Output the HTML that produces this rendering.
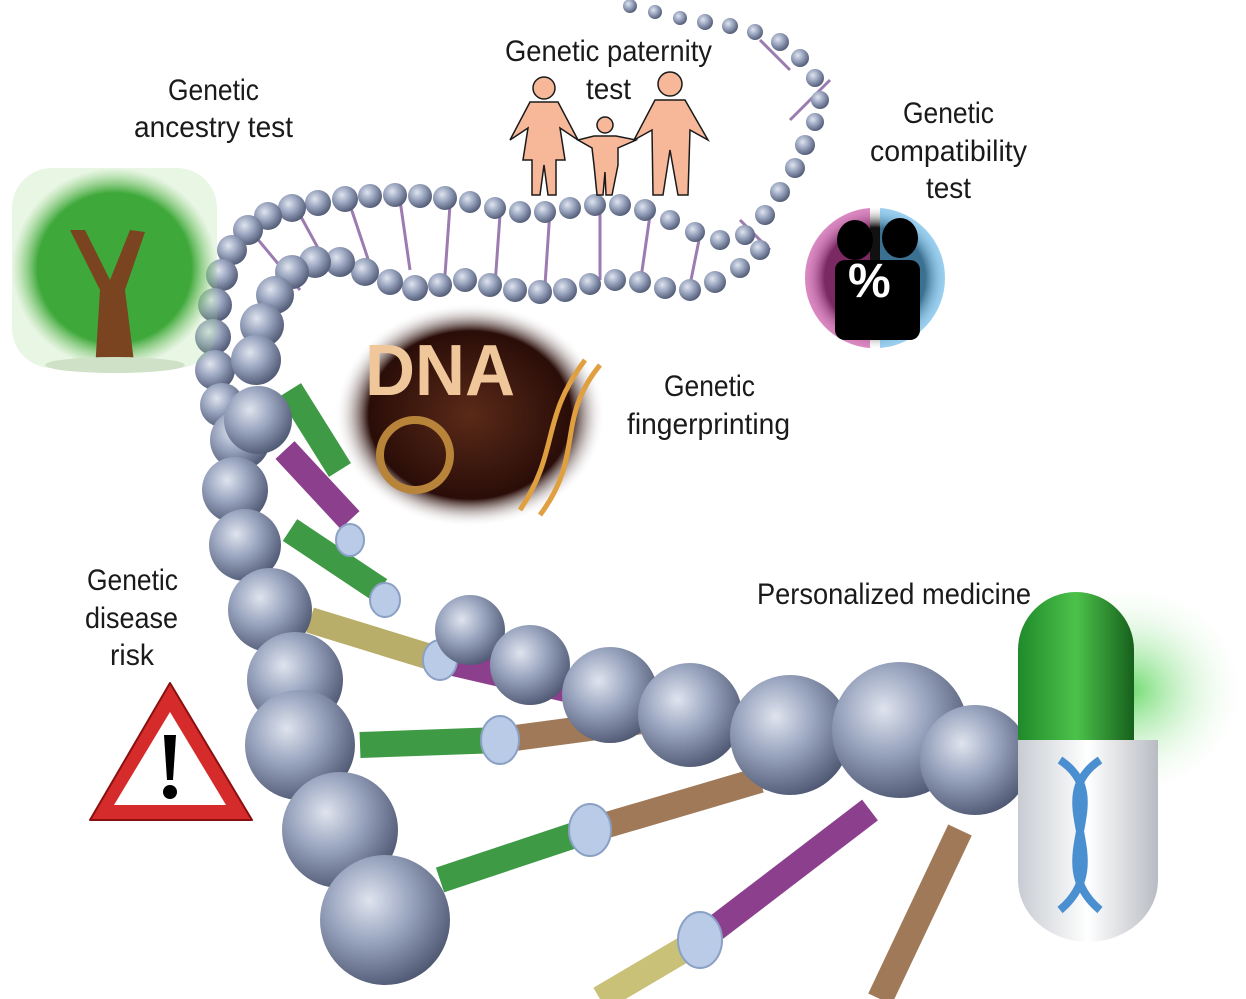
<!DOCTYPE html>
<html><head><meta charset="utf-8"><style>
html,body{margin:0;padding:0;background:#fff;}
svg{display:block}
text{font-family:"Liberation Sans Narrow","Liberation Sans",sans-serif;font-size:30px;fill:#1a1a1a;}
</style></head><body>
<svg width="1246" height="999" viewBox="0 0 1246 999" xmlns="http://www.w3.org/2000/svg">
<defs>
<radialGradient id="sph" cx="0.38" cy="0.35" r="0.7">
<stop offset="0" stop-color="#dfe4ee"/><stop offset="0.45" stop-color="#9aa5bf"/><stop offset="1" stop-color="#4d5670"/>
</radialGradient>
<radialGradient id="dnaC" cx="0.5" cy="0.5" r="0.5">
<stop offset="0" stop-color="#5a2a18"/><stop offset="0.75" stop-color="#2a0d08"/><stop offset="1" stop-color="#fff" stop-opacity="0"/>
</radialGradient>
<radialGradient id="cmp" cx="0.5" cy="0.5" r="0.5">
<stop offset="0.7" stop-color="#111"/><stop offset="1" stop-color="#fff" stop-opacity="0"/>
</radialGradient>
<linearGradient id="cap1" x1="0" y1="0" x2="1" y2="0"><stop offset="0" stop-color="#1f8a2a"/><stop offset="0.5" stop-color="#4cc24a"/><stop offset="1" stop-color="#16601c"/></linearGradient>
<linearGradient id="cap2" x1="0" y1="0" x2="1" y2="0"><stop offset="0" stop-color="#c8ccd2"/><stop offset="0.5" stop-color="#ffffff"/><stop offset="1" stop-color="#b8bcc2"/></linearGradient>
<radialGradient id="glow" cx="0.5" cy="0.5" r="0.5"><stop offset="0" stop-color="#4bd24b" stop-opacity="0.8"/><stop offset="1" stop-color="#fff" stop-opacity="0"/></radialGradient>
<radialGradient id="tree" cx="0.5" cy="0.5" r="0.5"><stop offset="0.75" stop-color="#3ea83a"/><stop offset="1" stop-color="#8fd07a" stop-opacity="0.2"/></radialGradient>
</defs>

<g stroke-width="26" stroke-linecap="butt">
<line x1="290" y1="390" x2="340" y2="470" stroke="#3f9a45"/>
<line x1="285" y1="450" x2="350" y2="520" stroke="#8c3f8c"/>
<line x1="290" y1="530" x2="380" y2="590" stroke="#3f9a45"/>
<line x1="310" y1="620" x2="440" y2="660" stroke="#b9ad6a"/>
<line x1="440" y1="660" x2="570" y2="690" stroke="#8c3f8c"/>
<line x1="360" y1="745" x2="500" y2="740" stroke="#3f9a45"/>
<line x1="500" y1="740" x2="650" y2="720" stroke="#a07a58"/>
<line x1="440" y1="880" x2="590" y2="830" stroke="#3f9a45"/>
<line x1="590" y1="830" x2="760" y2="780" stroke="#a07a58"/>
<line x1="600" y1="999" x2="700" y2="940" stroke="#c9c178"/>
<line x1="700" y1="940" x2="870" y2="810" stroke="#8c3f8c"/>
<line x1="880" y1="999" x2="960" y2="830" stroke="#a07a58"/>
</g>
<g fill="#b9cbe6" stroke="#8aa0c4" stroke-width="2">
<ellipse cx="350" cy="540" rx="14" ry="16"/><ellipse cx="385" cy="600" rx="15" ry="17"/>
<ellipse cx="440" cy="660" rx="17" ry="20"/><ellipse cx="500" cy="740" rx="19" ry="24"/>
<ellipse cx="590" cy="830" rx="21" ry="26"/><ellipse cx="700" cy="940" rx="22" ry="28"/>
</g>

<g stroke-width="3">
<path d="M250 230 L300 290 M300 215 L330 270 M350 205 L370 265 M400 200 L410 270 M450 205 L445 275 M500 215 L495 285 M550 210 L545 285 M600 205 L600 280 M650 215 L640 285 M700 235 L690 285 M740 220 L770 250 M790 120 L830 80 M760 40 L790 70" stroke="#9b7bb0"/>
</g>

<g fill="url(#sph)">
<circle cx="630" cy="6" r="7"/><circle cx="655" cy="12" r="7"/><circle cx="680" cy="18" r="7"/><circle cx="705" cy="22" r="8"/><circle cx="730" cy="26" r="8"/><circle cx="755" cy="32" r="8"/><circle cx="780" cy="42" r="9"/><circle cx="800" cy="58" r="9"/><circle cx="815" cy="78" r="9"/><circle cx="820" cy="100" r="9"/><circle cx="815" cy="122" r="9"/><circle cx="805" cy="145" r="10"/><circle cx="795" cy="168" r="10"/><circle cx="780" cy="192" r="10"/><circle cx="765" cy="215" r="10"/><circle cx="745" cy="235" r="10"/><circle cx="720" cy="240" r="10"/><circle cx="695" cy="232" r="10"/><circle cx="670" cy="220" r="10"/><circle cx="645" cy="210" r="11"/><circle cx="620" cy="205" r="11"/><circle cx="595" cy="205" r="11"/><circle cx="570" cy="208" r="11"/><circle cx="545" cy="212" r="11"/><circle cx="520" cy="212" r="11"/><circle cx="495" cy="208" r="11"/><circle cx="470" cy="202" r="11"/><circle cx="445" cy="198" r="12"/><circle cx="420" cy="196" r="12"/><circle cx="395" cy="195" r="12"/><circle cx="370" cy="196" r="12"/><circle cx="345" cy="199" r="13"/><circle cx="318" cy="203" r="13"/><circle cx="292" cy="208" r="14"/><circle cx="268" cy="216" r="14"/><circle cx="248" cy="230" r="15"/><circle cx="232" cy="250" r="15"/>
<circle cx="760" cy="250" r="10"/><circle cx="740" cy="268" r="10"/><circle cx="715" cy="282" r="11"/><circle cx="690" cy="290" r="11"/><circle cx="665" cy="288" r="11"/><circle cx="640" cy="282" r="11"/><circle cx="615" cy="280" r="11"/><circle cx="590" cy="284" r="11"/><circle cx="565" cy="290" r="12"/><circle cx="540" cy="292" r="12"/><circle cx="515" cy="290" r="12"/><circle cx="490" cy="285" r="12"/><circle cx="465" cy="280" r="12"/><circle cx="440" cy="285" r="12"/><circle cx="415" cy="288" r="13"/><circle cx="390" cy="282" r="13"/><circle cx="365" cy="272" r="14"/><circle cx="340" cy="262" r="15"/><circle cx="315" cy="262" r="16"/><circle cx="292" cy="272" r="17"/>
<circle cx="222" cy="275" r="16"/><circle cx="215" cy="305" r="17"/><circle cx="213" cy="337" r="18"/><circle cx="215" cy="370" r="20"/><circle cx="222" cy="405" r="22"/>
<circle cx="275" cy="295" r="19"/><circle cx="262" cy="325" r="22"/><circle cx="256" cy="360" r="25"/>
<circle cx="240" cy="440" r="30"/><circle cx="235" cy="490" r="33"/><circle cx="245" cy="545" r="36"/><circle cx="270" cy="610" r="42"/><circle cx="295" cy="680" r="48"/><circle cx="300" cy="745" r="55"/><circle cx="340" cy="830" r="58"/><circle cx="385" cy="920" r="65"/>
<circle cx="258" cy="420" r="34"/>
<circle cx="470" cy="630" r="35"/><circle cx="530" cy="665" r="40"/><circle cx="610" cy="695" r="48"/><circle cx="690" cy="715" r="52"/><circle cx="790" cy="735" r="60"/><circle cx="900" cy="730" r="68"/><circle cx="975" cy="760" r="55"/>
</g>

<rect x="12" y="168" width="205" height="200" rx="40" fill="url(#tree)"/>
<path d="M95 370 L100 290 L70 230 L85 230 L110 280 L130 230 L145 232 L125 290 L135 370 Z" fill="#7a4420"/>
<ellipse cx="115" cy="365" rx="70" ry="8" fill="#cfe2c8"/>

<g fill="#f7b89a" stroke="#1a1a1a" stroke-width="1.5">
<circle cx="544" cy="88" r="11"/><path d="M530 102 L558 102 L578 140 L560 128 L565 160 L556 160 L556 195 L548 195 L544 165 L540 195 L532 195 L532 160 L523 160 L528 128 L510 140 Z"/>
<circle cx="605" cy="125" r="8"/><path d="M594 136 L616 136 L636 140 L618 148 L618 165 L612 195 L606 195 L605 172 L603 195 L597 195 L594 165 L592 148 L578 140 Z"/>
<circle cx="670" cy="84" r="12"/><path d="M655 100 L685 100 L708 140 L690 130 L688 195 L678 195 L670 150 L663 195 L653 195 L652 130 L634 140 Z"/>
</g>

<circle cx="875" cy="278" r="72" fill="url(#cmp)"/>
<path d="M805 278 A70 70 0 0 1 870 208 L870 348 A70 70 0 0 1 805 278Z" fill="#c33b9a" opacity="0.6"/>
<path d="M880 208 A70 70 0 0 1 945 278 A70 70 0 0 1 880 348Z" fill="#5ab0e8" opacity="0.6"/>
<ellipse cx="855" cy="240" rx="18" ry="20" fill="#000"/><ellipse cx="900" cy="238" rx="18" ry="20" fill="#000"/>
<rect x="835" y="260" width="85" height="80" rx="10" fill="#000"/>
<text x="848" y="297" style="font-size:48px;font-weight:bold;fill:#fff">%</text>

<ellipse cx="470" cy="415" rx="135" ry="112" fill="url(#dnaC)"/>
<text x="365" y="395" textLength="150" lengthAdjust="spacingAndGlyphs" style="font-size:72px;font-weight:bold;fill:#f0c79a;font-family:'Liberation Sans',sans-serif">DNA</text>
<circle cx="415" cy="455" r="35" fill="none" stroke="#b8843a" stroke-width="8"/>
<path d="M520 510 C560 450 540 420 585 360 M540 515 C585 455 555 420 600 365" stroke="#e0a040" stroke-width="5" fill="none"/>

<path d="M170 683 L252 820 L90 820 Z" fill="#d62b2b" stroke="#8a1010" stroke-width="2" stroke-linejoin="round"/>
<path d="M170 712 L226 805 L114 805 Z" fill="#fff"/>
<path d="M164 735 L176 735 L173 780 L167 780 Z" fill="#000"/><circle cx="170" cy="792" r="7" fill="#000"/>

<ellipse cx="1130" cy="690" rx="120" ry="110" fill="url(#glow)"/>
<path d="M1018 740 L1018 650 A58 58 0 0 1 1134 650 L1134 740 Z" fill="url(#cap1)"/>
<path d="M1018 740 L1158 740 L1158 880 A70 62 0 0 1 1018 880 Z" fill="url(#cap2)"/>
<path d="M1060 760 C1120 800 1040 860 1100 910 M1100 760 C1040 800 1120 860 1060 910" stroke="#4a8fd0" stroke-width="8" fill="none"/>

<g lengthAdjust="spacingAndGlyphs">
<text x="168" y="100" textLength="91" lengthAdjust="spacingAndGlyphs">Genetic</text>
<text x="134" y="137" textLength="159" lengthAdjust="spacingAndGlyphs">ancestry test</text>
<text x="505" y="61" textLength="207" lengthAdjust="spacingAndGlyphs">Genetic paternity</text>
<text x="586" y="99" textLength="45" lengthAdjust="spacingAndGlyphs">test</text>
<text x="903" y="123" textLength="91" lengthAdjust="spacingAndGlyphs">Genetic</text>
<text x="870" y="161" textLength="157" lengthAdjust="spacingAndGlyphs">compatibility</text>
<text x="926" y="198" textLength="45" lengthAdjust="spacingAndGlyphs">test</text>
<text x="664" y="396" textLength="91" lengthAdjust="spacingAndGlyphs">Genetic</text>
<text x="627" y="434" textLength="163" lengthAdjust="spacingAndGlyphs">fingerprinting</text>
<text x="87" y="590" textLength="91" lengthAdjust="spacingAndGlyphs">Genetic</text>
<text x="85" y="628" textLength="93" lengthAdjust="spacingAndGlyphs">disease</text>
<text x="110" y="665" textLength="44" lengthAdjust="spacingAndGlyphs">risk</text>
<text x="757" y="604" textLength="274" lengthAdjust="spacingAndGlyphs">Personalized medicine</text>
</g>
</svg>
</body></html>
